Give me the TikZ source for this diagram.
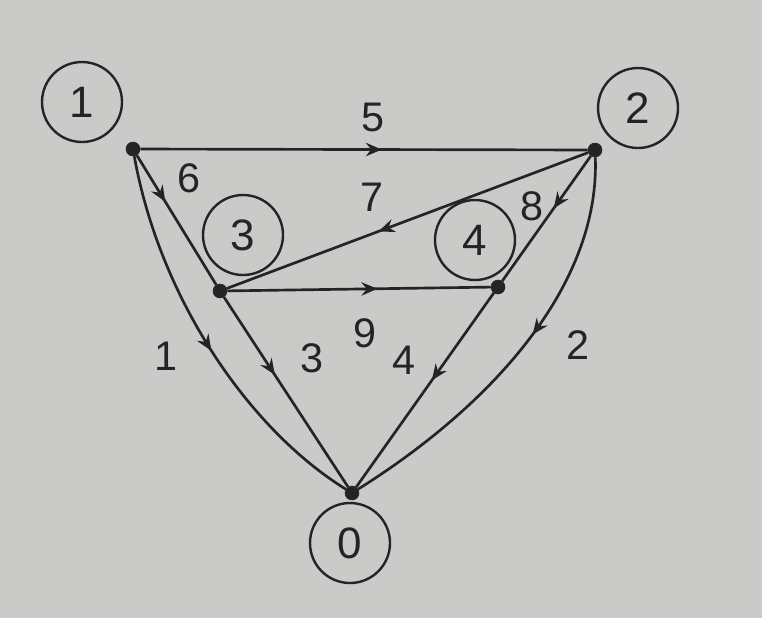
\documentclass[tikz,border=0pt]{standalone}
\usepackage{fontspec}
\setmainfont{Liberation Sans}
\usetikzlibrary{arrows.meta,decorations.markings}
\definecolor{paper}{RGB}{202,203,200}
\definecolor{ink}{RGB}{36,36,36}
\tikzset{
  vdot/.style={circle,fill=ink,draw=ink,inner sep=0pt,minimum size=10.5pt},
  vlabel/.style={circle,draw=ink,line width=1.8pt,minimum size=60pt,inner sep=0pt,text=ink,font=\fontsize{33}{33}\selectfont},
  elabel/.style={text=ink,inner sep=0pt,font=\fontsize{31}{31}\selectfont},
  edge/.style={draw=ink,line width=2pt},
  midarrow/.style={postaction={decorate},decoration={markings,
    mark=at position #1 with {\arrow{Stealth[length=12pt,width=10pt,inset=4pt]}}}},
}
\begin{document}
\begin{tikzpicture}[x=0.75pt,y=-0.75pt]
\fill[paper] (0,0) rectangle (762,618);
\useasboundingbox (0,0) rectangle (762,618);
% vertices
\node[vdot] (v1) at (133,149) {};
\node[vdot] (v2) at (595,150) {};
\node[vdot] (v3) at (220,291) {};
\node[vdot] (v4) at (498,287) {};
\node[vdot] (v0) at (352,493) {};
% vertex labels
\node[vlabel] (l1) at (82,102) {1};
\node[vlabel] (l2) at (638,108) {2};
\node[vlabel] (l3) at (243,235) {3};
\node[vlabel] (l4) at (475,240) {4};
\node[vlabel] (l0) at (350,543) {0};
% edges
\draw[edge,midarrow=0.54] (v1) -- (v2);
\draw[edge,midarrow=0.36] (v1) -- (v3);
\draw[edge,midarrow=0.58] (v2) -- (v3);
\draw[edge,midarrow=0.42] (v2) -- (v4);
\draw[edge,midarrow=0.57] (v3) -- (v4);
\draw[edge,midarrow=0.41] (v3) -- (v0);
\draw[edge,midarrow=0.45] (v4) -- (v0);
\draw[edge,midarrow=0.52] (v1) .. controls (160,300) and (250,430) .. (v0);
\draw[edge,midarrow=0.45] (v2) .. controls (600,280) and (500,400) .. (v0);
% edge labels
\node[elabel] (e5) at (373,117) {5};
\node[elabel] (e6) at (189,178) {6};
\node[elabel] (e7) at (372,197) {7};
\node[elabel] (e8) at (532,206) {8};
\node[elabel] (e9) at (365,333) {9};
\node[elabel] (e1) at (166,356) {1};
\node[elabel] (e3) at (312,358) {3};
\node[elabel] (e4) at (404,360) {4};
\node[elabel] (e2) at (578,345) {2};
\end{tikzpicture}
\end{document}
